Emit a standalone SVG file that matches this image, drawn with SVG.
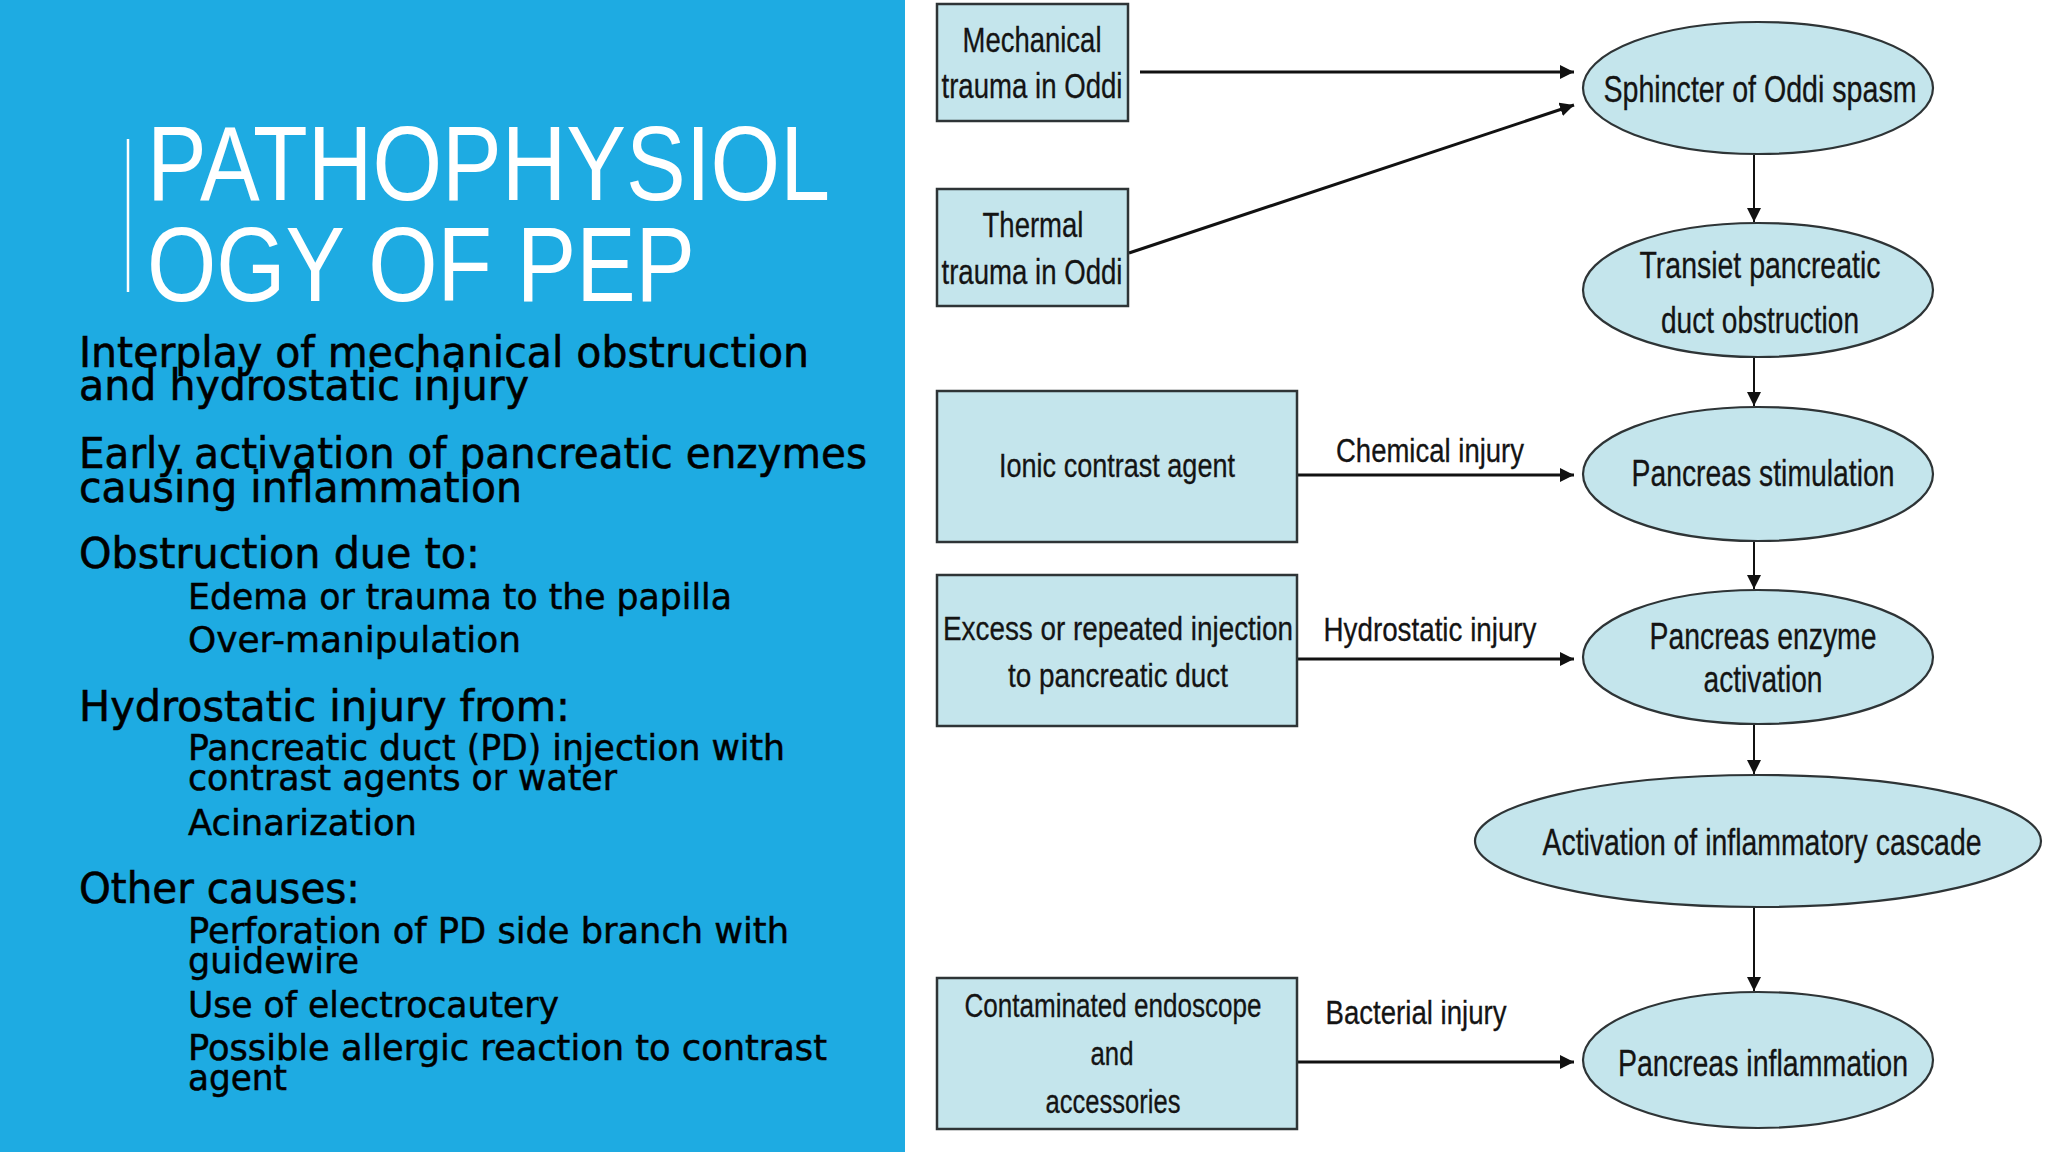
<svg xmlns="http://www.w3.org/2000/svg" width="2048" height="1152" viewBox="0 0 2048 1152">
<style>
.title{font-family:"Liberation Sans",Arial,sans-serif;font-size:105px;fill:#fff}
.h{font-family:"DejaVu Sans",Verdana,sans-serif;font-size:43px;fill:#000;stroke:#000;stroke-width:0.6}
.s{font-family:"DejaVu Sans",Verdana,sans-serif;font-size:35px;fill:#000;stroke:#000;stroke-width:0.5}
.box{fill:#c4e5ec;stroke:#2e3436;stroke-width:2.5}
.ell{fill:#c4e5ec;stroke:#2e3436;stroke-width:2.2}
.t{font-family:"Liberation Sans",Arial,sans-serif;font-size:33px;fill:#141414;stroke:#141414;stroke-width:0.3;text-anchor:middle}
.tb{font-size:35px}
.te{font-size:36px}
.lab{font-family:"Liberation Sans",Arial,sans-serif;font-size:33px;fill:#141414;stroke:#141414;stroke-width:0.3;text-anchor:middle}
.arr{stroke:#111;fill:none;marker-end:url(#ah)}
</style>
<defs>
<marker id="ah" markerUnits="userSpaceOnUse" markerWidth="16" markerHeight="16" refX="14" refY="7" orient="auto">
<path d="M0,0 L14,7 L0,14 z" fill="#111"/>
</marker>
</defs>
<rect x="0" y="0" width="2048" height="1152" fill="#fff"/>
<g id="left-panel">
<rect x="0" y="0" width="905" height="1152" fill="#1eabe2"/>
<line x1="128" y1="139" x2="128" y2="292" stroke="#fff" stroke-width="2.5"/>
<text class="title" x="147" y="200" textLength="683" lengthAdjust="spacingAndGlyphs">PATHOPHYSIOL</text>
<text class="title" x="147" y="301" textLength="548" lengthAdjust="spacingAndGlyphs">OGY OF PEP</text>
<text class="h" x="79" y="367" textLength="730" lengthAdjust="spacingAndGlyphs">Interplay of mechanical obstruction</text>
<text class="h" x="79" y="400" textLength="450" lengthAdjust="spacingAndGlyphs">and hydrostatic injury</text>
<text class="h" x="79" y="468" textLength="788" lengthAdjust="spacingAndGlyphs">Early activation of pancreatic enzymes</text>
<text class="h" x="79" y="502" textLength="443" lengthAdjust="spacingAndGlyphs">causing inflammation</text>
<text class="h" x="79" y="568" textLength="401" lengthAdjust="spacingAndGlyphs">Obstruction due to:</text>
<text class="s" x="188" y="609" textLength="544" lengthAdjust="spacingAndGlyphs">Edema or trauma to the papilla</text>
<text class="s" x="188" y="652" textLength="333" lengthAdjust="spacingAndGlyphs">Over-manipulation</text>
<text class="h" x="79" y="721" textLength="491" lengthAdjust="spacingAndGlyphs">Hydrostatic injury from:</text>
<text class="s" x="188" y="760" textLength="597" lengthAdjust="spacingAndGlyphs">Pancreatic duct (PD) injection with</text>
<text class="s" x="188" y="790" textLength="429" lengthAdjust="spacingAndGlyphs">contrast agents or water</text>
<text class="s" x="188" y="835" textLength="229" lengthAdjust="spacingAndGlyphs">Acinarization</text>
<text class="h" x="79" y="903" textLength="281" lengthAdjust="spacingAndGlyphs">Other causes:</text>
<text class="s" x="188" y="943" textLength="601" lengthAdjust="spacingAndGlyphs">Perforation of PD side branch with</text>
<text class="s" x="188" y="973" textLength="171" lengthAdjust="spacingAndGlyphs">guidewire</text>
<text class="s" x="188" y="1017" textLength="371" lengthAdjust="spacingAndGlyphs">Use of electrocautery</text>
<text class="s" x="188" y="1060" textLength="639" lengthAdjust="spacingAndGlyphs">Possible allergic reaction to contrast</text>
<text class="s" x="188" y="1090" textLength="99" lengthAdjust="spacingAndGlyphs">agent</text>
</g>
<g id="connectors">
<line class="arr" x1="1140" y1="72" x2="1574" y2="72" stroke-width="3"/>
<line class="arr" x1="1129" y1="253" x2="1574" y2="105" stroke-width="3"/>
<line class="arr" x1="1298" y1="475" x2="1574" y2="475" stroke-width="3"/>
<line class="arr" x1="1298" y1="659" x2="1574" y2="659" stroke-width="3"/>
<line class="arr" x1="1298" y1="1062" x2="1574" y2="1062" stroke-width="3"/>
<line class="arr" x1="1754" y1="155" x2="1754" y2="222" stroke-width="2"/>
<line class="arr" x1="1754" y1="357" x2="1754" y2="406" stroke-width="2"/>
<line class="arr" x1="1754" y1="541" x2="1754" y2="589" stroke-width="2"/>
<line class="arr" x1="1754" y1="724" x2="1754" y2="774" stroke-width="2"/>
<line class="arr" x1="1754" y1="907" x2="1754" y2="991" stroke-width="2"/>
<text class="lab" x="1430" y="462" textLength="188" lengthAdjust="spacingAndGlyphs">Chemical injury</text>
<text class="lab" x="1430" y="641" textLength="213" lengthAdjust="spacingAndGlyphs">Hydrostatic injury</text>
<text class="lab" x="1416" y="1024" textLength="181" lengthAdjust="spacingAndGlyphs">Bacterial injury</text>
</g>
<g id="mechanical">
<rect class="box" x="937" y="4" width="191" height="117"/>
<text class="t tb" x="1032" y="52" textLength="139" lengthAdjust="spacingAndGlyphs">Mechanical</text>
<text class="t tb" x="1032" y="98" textLength="181" lengthAdjust="spacingAndGlyphs">trauma in Oddi</text>
</g>
<g id="thermal">
<rect class="box" x="937" y="189" width="191" height="117"/>
<text class="t tb" x="1033" y="237" textLength="101" lengthAdjust="spacingAndGlyphs">Thermal</text>
<text class="t tb" x="1032" y="284" textLength="181" lengthAdjust="spacingAndGlyphs">trauma in Oddi</text>
</g>
<g id="ionic">
<rect class="box" x="937" y="391" width="360" height="151"/>
<text class="t" x="1117" y="477" textLength="236" lengthAdjust="spacingAndGlyphs">Ionic contrast agent</text>
</g>
<g id="excess">
<rect class="box" x="937" y="575" width="360" height="151"/>
<text class="t" x="1118" y="640" textLength="350" lengthAdjust="spacingAndGlyphs">Excess or repeated injection</text>
<text class="t" x="1118" y="687" textLength="220" lengthAdjust="spacingAndGlyphs">to pancreatic duct</text>
</g>
<g id="contaminated">
<rect class="box" x="937" y="978" width="360" height="151"/>
<text class="t" x="1113" y="1017" textLength="297" lengthAdjust="spacingAndGlyphs">Contaminated endoscope</text>
<text class="t" x="1112" y="1065" textLength="43" lengthAdjust="spacingAndGlyphs">and</text>
<text class="t" x="1113" y="1113" textLength="135" lengthAdjust="spacingAndGlyphs">accessories</text>
</g>
<g id="sphincter">
<ellipse class="ell" cx="1758" cy="88" rx="175" ry="66"/>
<text class="t te" x="1760" y="102" textLength="313" lengthAdjust="spacingAndGlyphs">Sphincter of Oddi spasm</text>
</g>
<g id="transient">
<ellipse class="ell" cx="1758" cy="290" rx="175" ry="67"/>
<text class="t te" x="1760" y="278" textLength="241" lengthAdjust="spacingAndGlyphs">Transiet pancreatic</text>
<text class="t te" x="1760" y="333" textLength="198" lengthAdjust="spacingAndGlyphs">duct obstruction</text>
</g>
<g id="stimulation">
<ellipse class="ell" cx="1758" cy="474" rx="175" ry="67"/>
<text class="t te" x="1763" y="486" textLength="263" lengthAdjust="spacingAndGlyphs">Pancreas stimulation</text>
</g>
<g id="enzyme">
<ellipse class="ell" cx="1758" cy="657" rx="175" ry="67"/>
<text class="t te" x="1763" y="649" textLength="227" lengthAdjust="spacingAndGlyphs">Pancreas enzyme</text>
<text class="t te" x="1763" y="692" textLength="119" lengthAdjust="spacingAndGlyphs">activation</text>
</g>
<g id="cascade">
<ellipse class="ell" cx="1758" cy="841" rx="283" ry="66"/>
<text class="t te" x="1762" y="855" textLength="439" lengthAdjust="spacingAndGlyphs">Activation of inflammatory cascade</text>
</g>
<g id="inflammation">
<ellipse class="ell" cx="1758" cy="1060" rx="175" ry="68"/>
<text class="t te" x="1763" y="1076" textLength="290" lengthAdjust="spacingAndGlyphs">Pancreas inflammation</text>
</g>
</svg>
